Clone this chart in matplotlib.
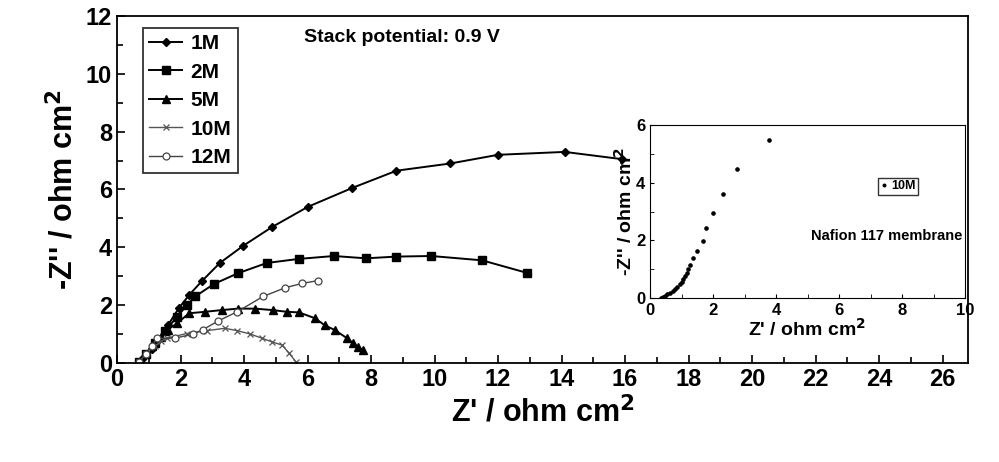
import matplotlib.pyplot as plt
from matplotlib.ticker import MultipleLocator

plt.rcParams['font.family'] = ['Liberation Sans', 'DejaVu Sans']
plt.rcParams['font.weight'] = 'bold'

# 1M
X1 = [0.7, 0.8, 0.9, 1.1, 1.3, 1.6, 1.95, 2.27, 2.68, 3.24, 3.97, 4.88, 6.01, 7.4, 8.8, 10.5, 12.0, 14.1, 15.9]
Y1 = [0.05, 0.15, 0.3, 0.5, 0.8, 1.3, 1.9, 2.35, 2.84, 3.46, 4.05, 4.7, 5.4, 6.05, 6.65, 6.9, 7.2, 7.3, 7.05]
# 2M
X2 = [0.7, 0.9, 1.2, 1.5, 1.9, 2.2, 2.46, 3.05, 3.8, 4.72, 5.73, 6.83, 7.84, 8.8, 9.9, 11.5, 12.9]
Y2 = [0.05, 0.3, 0.7, 1.1, 1.6, 2.0, 2.3, 2.73, 3.1, 3.46, 3.6, 3.7, 3.62, 3.68, 3.7, 3.55, 3.12]
# 5M
X5 = [0.7, 0.9, 1.1, 1.4, 1.6, 1.9, 2.27, 2.77, 3.3, 3.8, 4.34, 4.9, 5.35, 5.73, 6.23, 6.55, 6.86, 7.24, 7.43, 7.59, 7.74]
Y5 = [0.05, 0.3, 0.6, 0.9, 1.15, 1.38, 1.72, 1.77, 1.83, 1.88, 1.88, 1.83, 1.77, 1.75, 1.55, 1.3, 1.14, 0.86, 0.69, 0.55, 0.45]
# 10M
X10 = [0.7, 0.9, 1.2, 1.4, 1.57, 2.2, 2.83, 3.4, 3.78, 4.2, 4.56, 4.88, 5.2, 5.42, 5.65]
Y10 = [0.05, 0.3, 0.6, 0.75, 0.86, 1.02, 1.12, 1.2, 1.12, 1.0, 0.86, 0.73, 0.62, 0.34, 0.02]
# 12M
X12 = [0.7, 0.9, 1.1, 1.26, 1.83, 2.4, 2.7, 3.18, 3.78, 4.6, 5.29, 5.82, 6.33]
Y12 = [0.05, 0.3, 0.6, 0.85, 0.86, 1.0, 1.15, 1.45, 1.77, 2.3, 2.6, 2.75, 2.85]

# inset: Nafion 117, 10M
XN = [0.35, 0.4, 0.47, 0.55, 0.64, 0.72, 0.8, 0.87, 0.94, 1.0, 1.06, 1.12, 1.17, 1.22, 1.28,
      1.38, 1.48, 1.67, 1.78, 1.99, 2.33, 2.75, 3.79]
YN = [0.0, 0.03, 0.08, 0.13, 0.19, 0.25, 0.32, 0.39, 0.47, 0.56, 0.66, 0.77, 0.88, 1.0, 1.15,
      1.39, 1.63, 1.98, 2.44, 2.96, 3.6, 4.47, 5.48]

fig = plt.figure(figsize=(9.99, 4.62), dpi=100)
ax = fig.add_axes([117 / 999, 1 - 363 / 462, (968 - 117) / 999, (363 - 16) / 462])

kw = dict(color='black', lw=1.4)
ax.plot(X1, Y1, marker='D', ms=4.5, label='1M', **kw)
ax.plot(X2, Y2, marker='s', ms=5.5, label='2M', **kw)
ax.plot(X5, Y5, marker='^', ms=5.5, label='5M', **kw)
ax.plot(X10, Y10, marker='x', ms=5, mew=0.9, label='10M', color='#555555', lw=1.0)
ax.plot(X12, Y12, marker='o', ms=5, mfc='white', mew=0.9, label='12M', color='#444444', lw=1.0)

ax.set_xlim(0, 26.8)
ax.set_ylim(0, 12)
ax.xaxis.set_major_locator(MultipleLocator(2))
ax.xaxis.set_minor_locator(MultipleLocator(1))
ax.yaxis.set_major_locator(MultipleLocator(2))
ax.yaxis.set_minor_locator(MultipleLocator(1))
ax.tick_params(which='both', direction='in', labelsize=17, width=1.2)
ax.tick_params(which='major', length=6)
ax.tick_params(which='minor', length=4)
for s in ax.spines.values():
    s.set_linewidth(1.3)
ax.set_xlabel("Z' / ohm cm$^{\\mathbf{2}}$", fontsize=22, fontweight='bold')
ax.set_ylabel("-Z'' / ohm cm$^{\\mathbf{2}}$", fontsize=22, fontweight='bold')
ax.text(5.9, 11.1, 'Stack potential: 0.9 V', fontsize=14, fontweight='bold')
leg = ax.legend(loc='upper left', bbox_to_anchor=(0.018, 0.995), fontsize=15, frameon=True,
                fancybox=False, edgecolor='black', handlelength=1.6, handletextpad=0.4,
                borderpad=0.3, labelspacing=0.45)
leg.get_frame().set_linewidth(1.3)

ins = fig.add_axes([650 / 999, 1 - 298 / 462, 315 / 999, 173 / 462])
ins.plot(XN, YN, 'o', ms=2.3, color='black', label='10M')
ins.set_xlim(0, 10)
ins.set_ylim(0, 6)
ins.xaxis.set_major_locator(MultipleLocator(2))
ins.xaxis.set_minor_locator(MultipleLocator(1))
ins.yaxis.set_major_locator(MultipleLocator(2))
ins.yaxis.set_minor_locator(MultipleLocator(1))
ins.tick_params(which='both', direction='in', labelsize=12, length=3)
ins.set_xlabel("Z' / ohm cm$^{\\mathbf{2}}$", fontsize=14, fontweight='bold', labelpad=0)
ins.set_ylabel("-Z'' / ohm cm$^{\\mathbf{2}}$", fontsize=14, fontweight='bold', labelpad=0)
ins.text(5.1, 2.0, 'Nafion 117 membrane', fontsize=10.5, fontweight='bold')
il = ins.legend(loc='upper right', bbox_to_anchor=(0.87, 0.73), fontsize=9, fancybox=False,
                edgecolor='black', handlelength=0.5, handletextpad=0.3, borderpad=0.2, markerscale=0.8)

fig.savefig('out.png', dpi=100)
